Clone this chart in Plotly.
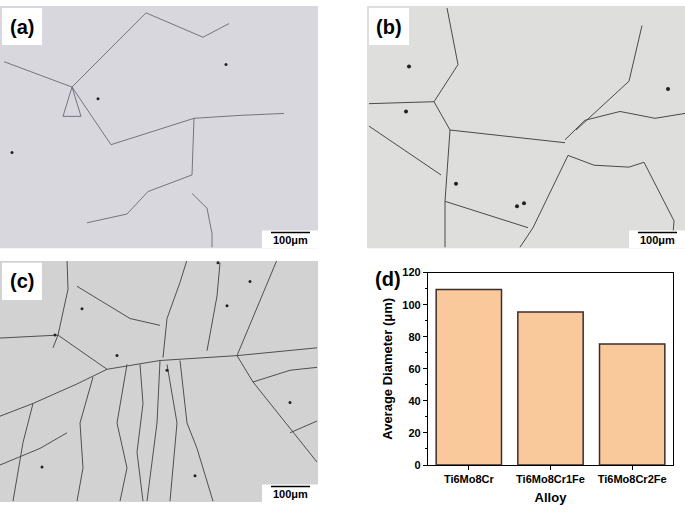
import plotly.graph_objects as go

# ---------------- data ----------------
alloys = ["Ti6Mo8Cr", "Ti6Mo8Cr1Fe", "Ti6Mo8Cr2Fe"]
avg_diameter = [109.5, 95.5, 75.5]
y_ticks = [0, 20, 40, 60, 80, 100, 120]

panel_labels = ["(a)", "(b)", "(c)", "(d)"]
scale_text = "100μm"

gb_a = [
    ([146, 203, 229], [7, 32, 18]),
    ([146, 72], [7, 83]),
    ([4, 72], [57, 83]),
    ([72, 63, 81, 72], [83, 113, 113, 83]),
    ([72, 111, 194], [83, 142, 115]),
    ([194, 240, 284], [115, 112, 110]),
    ([194, 192], [115, 173]),
    ([87, 127, 148, 192], [222, 213, 190, 173]),
    ([192, 207, 212, 212], [192, 207, 233, 247]),
]
gb_b = [
    ([198, 218, 253, 288, 318], [137, 117, 108, 115, 110]),
    ([201, 227, 262, 277], [153, 163, 165, 160]),
    ([277, 307, 305], [160, 220, 247]),
    ([198, 83, 67, 2], [140, 127, 98, 100]),
    ([67, 91, 80], [98, 60, 2]),
    ([83, 78, 78], [127, 200, 247]),
    ([2, 74], [123, 173]),
    ([201, 166, 153], [153, 227, 247]),
    ([78, 161], [200, 227]),
    ([209, 262, 275], [127, 77, 20]),
]
gb_c = [
    ([0, 33, 77, 107, 160, 237, 317], [159, 146, 126, 111, 102, 97, 89]),
    ([237, 277], [97, -1]),
    ([237, 253, 317], [97, 124, 206]),
    ([253, 290, 317], [124, 112, 109]),
    ([67, 68, 58, 53], [-1, 29, 76, 89]),
    ([58, 107], [76, 111]),
    ([0, 58], [79, 76]),
    ([77, 130, 160], [26, 59, 66]),
    ([167, 177, 170], [106, 166, 246]),
    ([160, 157, 147], [102, 166, 246]),
    ([180, 187, 197, 213], [102, 166, 192, 246]),
    ([163, 167, 180, 187], [99, 59, 22, -1]),
    ([220, 217, 207], [2, 36, 92]),
    ([93, 80, 83, 77], [119, 166, 212, 246]),
    ([33, 23, 13], [146, 186, 246]),
    ([127, 117, 127, 120], [106, 166, 212, 246]),
    ([140, 143, 137, 143], [106, 146, 196, 246]),
    ([290, 317], [176, 164]),
    ([0, 40, 67], [209, 192, 176]),
]
# dark inclusions
dots_a = ([12, 98, 226], [150, 95, 60])
dots_b = ([39, 89, 150, 157, 42, 301], [108, 182, 205, 202, 62, 85])
dots_c = ([55, 82, 42, 250, 290, 167, 117, 227, 218, 195], [76, 49, 211, 21, 145, 112, 97, 46, 2, 220])

# ---------------- layout geometry ----------------
W, H = 685, 513
dom_a = dict(x=[0, 318 / W], y=[1 - 248 / H, 1])
dom_b = dict(x=[367 / W, 1], y=[1 - 248 / H, 1])
dom_c = dict(x=[0, 318 / W], y=[1 - 508 / H, 1 - 261 / H])
dom_d = dict(x=[428 / W, 673 / W], y=[1 - 470 / H, 1 - 273 / H])

panels = [
    ("x", "y", dom_a, 248, gb_a, dots_a, "#d8d7de", "#6b6675", 0.9, 3),
    ("x2", "y2", dom_b, 248, gb_b, dots_b, "#dededd", "#4a4a4a", 1.0, 4),
    ("x3", "y3", dom_c, 247, gb_c, dots_c, "#d2d2d2", "#4f4f4f", 1.0, 3),
]

fig = go.Figure()
shapes, annotations = [], []

for i, (xr, yr, dom, ph, gbs, dots, bg, lc, lw, ds) in enumerate(panels):
    sfx = "" if i == 0 else str(i + 1)
    fig.update_layout(**{
        f"xaxis{sfx}": dict(domain=dom["x"], range=[0, 318], visible=False, fixedrange=True,
                           anchor=yr),
        f"yaxis{sfx}": dict(domain=dom["y"], range=[ph, 0], visible=False, fixedrange=True,
                           anchor=xr),
    })
    shapes.append(dict(type="rect", xref=f"{xr} domain", yref=f"{yr} domain",
                       x0=0, x1=1, y0=0, y1=1, fillcolor=bg, line_width=0, layer="below"))
    for xs, ys in gbs:
        fig.add_trace(go.Scatter(x=xs, y=ys, mode="lines", xaxis=xr, yaxis=yr,
                                 line=dict(color=lc, width=lw), showlegend=False,
                                 hoverinfo="skip"))
    fig.add_trace(go.Scatter(x=dots[0], y=dots[1], mode="markers", xaxis=xr, yaxis=yr,
                             marker=dict(color="#222222", size=ds), showlegend=False,
                             hoverinfo="skip"))
    # label box
    shapes.append(dict(type="rect", xref=xr, yref=yr, x0=2, x1=42, y0=2, y1=40,
                       fillcolor="white", line_width=0))
    annotations.append(dict(text=f"<b>{panel_labels[i]}</b>", xref=xr, yref=yr,
                            x=22, y=21, showarrow=False,
                            font=dict(family="Arial", size=20, color="black")))
    # scale bar box
    shapes.append(dict(type="rect", xref=xr, yref=yr, x0=262, x1=318, y0=ph - 18, y1=ph,
                       fillcolor="white", line_width=0))
    shapes.append(dict(type="line", xref=xr, yref=yr, x0=271, x1=310, y0=ph - 16, y1=ph - 16,
                       line=dict(color="black", width=1.5)))
    annotations.append(dict(text=f"<b>{scale_text}</b>", xref=xr, yref=yr,
                            x=290, y=ph - 8, showarrow=False,
                            font=dict(family="Arial", size=11, color="black")))

# bar chart (d)
fig.add_trace(go.Bar(x=alloys, y=avg_diameter, xaxis="x4", yaxis="y4", width=0.8,
                     marker=dict(color="#f9c99c", line=dict(color="#3b2d2b", width=1.5)),
                     showlegend=False))

axfont = dict(family="Arial", size=11, color="black", weight="bold")
fig.update_layout(
    xaxis4=dict(domain=dom_d["x"], anchor="y4", showline=True, linecolor="black", linewidth=1.2,
                mirror=True, ticks="outside", ticklen=4, tickcolor="black", tickfont=axfont,
                title=dict(text="<b>Alloy</b>", font=dict(family="Arial", size=13, color="black"),
                           standoff=8),
                range=[-0.5, 2.5], fixedrange=True),
    yaxis4=dict(domain=dom_d["y"], anchor="x4", range=[0, 120], tickvals=y_ticks,
                showline=True, linecolor="black", linewidth=1.2, mirror=True,
                ticks="outside", ticklen=4, tickcolor="black", tickfont=axfont,
                showgrid=False, zeroline=False,
                minor=dict(dtick=10, ticks="outside", ticklen=2, tickcolor="black"),
                title=dict(text="<b>Average Diameter (μm)</b>",
                           font=dict(family="Arial", size=13, color="black"), standoff=6),
                fixedrange=True),
)
annotations.append(dict(text=f"<b>{panel_labels[3]}</b>", xref="paper", yref="paper",
                        x=388 / W, y=1 - 280 / H, showarrow=False, xanchor="center",
                        yanchor="middle", font=dict(family="Arial", size=20, color="black")))

fig.update_layout(width=W, height=H, margin=dict(l=0, r=0, t=0, b=0),
                  paper_bgcolor="white", plot_bgcolor="white",
                  shapes=shapes, annotations=annotations, bargap=0.2)

fig.write_html("out.html", config={"displayModeBar": False},
               post_script="document.body.style.margin='0';")
